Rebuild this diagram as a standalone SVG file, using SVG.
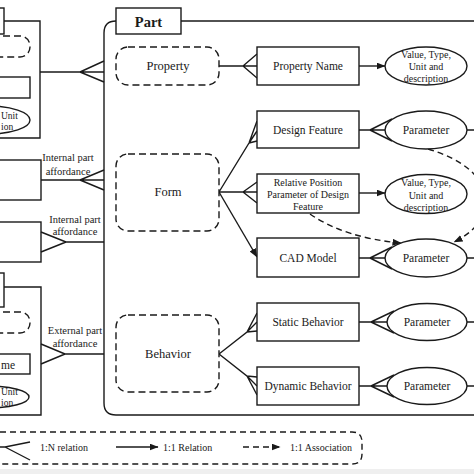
<svg xmlns="http://www.w3.org/2000/svg" width="474" height="474" viewBox="0 0 474 474">
<style>
  .ln{fill:none;stroke:#1a1a1a;stroke-width:1.4}
  .box{fill:#fff;stroke:#1a1a1a;stroke-width:1.4}
  .dbox{fill:#fff;stroke:#1a1a1a;stroke-width:1.4;stroke-dasharray:7 4}
  .dl{fill:none;stroke:#1a1a1a;stroke-width:1.4;stroke-dasharray:6 4}
  text{font-family:"Liberation Serif","Times New Roman",serif;fill:#1a1a1a;dominant-baseline:central}
  .t{font-size:11.5px;text-anchor:middle}
  .big{font-size:12.5px;text-anchor:middle}
  .s{font-size:10px;text-anchor:middle}
  .lab{font-size:10.5px;text-anchor:middle}
  .e{font-size:9.5px;text-anchor:start}
  .lg{font-size:10px;text-anchor:start}
</style>
<defs>
  <marker id="ar" markerWidth="9" markerHeight="7" refX="8.5" refY="3.5" orient="auto" markerUnits="userSpaceOnUse">
    <path d="M0,0 L9,3.5 L0,7 Z" fill="#1a1a1a"/>
  </marker>
</defs>
<rect x="0" y="0" width="474" height="474" fill="#fff"/>
<rect x="0" y="469" width="474" height="5" fill="#efefef"/>

<!-- left containers (partial) -->
<g id="left-top">
  <path class="ln" d="M4,21 H40 V138 H-5"/>
  <rect class="box" x="-60" y="8" width="64" height="26"/>
  <rect class="dbox" x="-40" y="36" width="70" height="21" rx="10"/>
  <rect class="box" x="-20" y="77" width="50" height="21"/>
  <ellipse class="box" cx="-12" cy="120" rx="42" ry="14"/>
  <text class="e" x="1" y="116">Unit</text>
  <text class="e" x="1" y="127">ion</text>
</g>
<g id="left-mid1"><rect class="box" x="-20" y="160" width="61" height="40"/></g>
<g id="left-mid2"><rect class="box" x="-20" y="222" width="61" height="40"/></g>
<g id="left-bottom">
  <path class="ln" d="M4,287 H41 V415 H-5"/>
  <rect class="box" x="-60" y="273" width="64" height="34"/>
  <rect class="dbox" x="-40" y="312" width="70" height="21" rx="10"/>
  <rect class="box" x="-20" y="354" width="50" height="20"/>
  <text class="e" x="1" y="365" style="font-size:11.5px">me</text>
  <ellipse class="box" cx="-12" cy="397" rx="41" ry="11"/>
  <text class="e" x="1" y="392">Unit</text>
  <text class="e" x="1" y="403">ion</text>
</g>

<!-- Part container -->
<g id="part">
  <path class="ln" d="M181,21 H480 M480,415 H116 Q104,415 104,403 V33 Q104,21 116,21"/>
  <rect class="box" x="116" y="8" width="65" height="26"/>
  <text x="148.5" y="21.5" style="font-size:14.5px;font-weight:bold;text-anchor:middle">Part</text>
</g>

<!-- connectors -->
<g id="connectors">
  <path class="ln" d="M40,72 H104 M80,72 L104,61 M80,72 L104,82"/>
  <path class="ln" d="M41,180 H104 M80,180 L104,170 M80,180 L104,190"/>
  <path class="ln" d="M66,242 H104 M66,242 L41,232 M66,242 L41,252"/>
  <path class="ln" d="M65,354 H104 M65,354 L41,344 M65,354 L41,364"/>
  <path class="ln" d="M219,66 H257 M243,66 L257,54 M243,66 L257,78"/>
  <path class="ln" d="M359,66 H385" marker-end="url(#ar)"/>
  <path class="ln" d="M219,192 L249,143 L257,121 M249,143 L257,131 M249,143 L257,141"/>
  <path class="ln" d="M219,192 H257 M243,192 L257,182 M243,192 L257,203"/>
  <path class="ln" d="M219,192 L257,257" marker-end="url(#ar)"/>
  <path class="ln" d="M359,193 H385" marker-end="url(#ar)"/>
  <path class="ln" d="M219,354 L247,332 L257,313 M247,332 L257,322 M247,332 L257,331"/>
  <path class="ln" d="M219,354 L247,376 L257,377 M247,376 L257,386 M247,376 L257,395"/>
  <path class="ln" d="M359,130 H386 M370,130 L392,119 M370,130 L392,141 M467,130 H480"/>
  <path class="ln" d="M359,258 H386 M370,258 L392,247 M370,258 L392,269 M467,258 H480"/>
  <path class="ln" d="M359,322 H388 M371,322 L394,311 M371,322 L394,333 M467,322 H480"/>
  <path class="ln" d="M359,386 H388 M371,386 L394,375 M371,386 L394,397 M467,386 H480"/>
  <path class="dl" d="M310,214 Q345,238 401,243" marker-end="url(#ar)"/>
  <path class="dl" d="M428,149 C500,170 500,220 454,242" marker-end="url(#ar)"/>
</g>

<!-- nodes -->
<g id="property"><rect class="dbox" x="116" y="47" width="103" height="38" rx="12"/><text class="big" x="168" y="66">Property</text></g>
<g id="property-name"><rect class="box" x="257" y="47" width="102" height="38"/><text class="t" x="308" y="66">Property Name</text></g>
<g id="value-1"><ellipse class="box" cx="426" cy="66" rx="41" ry="19"/>
  <text class="s" x="426" y="54.5">Value, Type,</text><text class="s" x="426" y="66.5">Unit and</text><text class="s" x="426" y="78">description</text></g>

<g id="form"><rect class="dbox" x="116" y="154" width="103" height="77" rx="12"/><text class="big" x="168" y="192">Form</text></g>
<g id="design-feature"><rect class="box" x="257" y="111" width="102" height="37"/><text class="t" x="308" y="130">Design Feature</text></g>
<g id="param-1"><ellipse class="box" cx="426" cy="130" rx="41" ry="19"/><text class="t" x="426" y="130">Parameter</text></g>
<g id="relative-position"><rect class="box" x="257" y="174" width="102" height="39"/>
  <text class="s" x="308" y="182">Relative Position</text><text class="s" x="308" y="194">Parameter of Design</text><text class="s" x="308" y="206">Feature</text></g>
<g id="value-2"><ellipse class="box" cx="426" cy="194" rx="41" ry="19.5"/>
  <text class="s" x="426" y="182">Value, Type,</text><text class="s" x="426" y="195">Unit and</text><text class="s" x="426" y="207">description</text></g>
<g id="cad-model"><rect class="box" x="257" y="238" width="102" height="39"/><text class="t" x="308" y="257.5">CAD Model</text></g>
<g id="param-2"><ellipse class="box" cx="426" cy="258" rx="41" ry="19"/><text class="t" x="426" y="258">Parameter</text></g>

<g id="behavior"><rect class="dbox" x="116" y="315" width="103" height="77" rx="12"/><text class="big" x="168" y="354">Behavior</text></g>
<g id="static-behavior"><rect class="box" x="257" y="303" width="102" height="38"/><text class="t" x="308" y="322">Static Behavior</text></g>
<g id="param-3"><ellipse class="box" cx="427" cy="322" rx="40" ry="18.5"/><text class="t" x="427" y="322">Parameter</text></g>
<g id="dynamic-behavior"><rect class="box" x="257" y="367" width="102" height="38"/><text class="t" x="308" y="386">Dynamic Behavior</text></g>
<g id="param-4"><ellipse class="box" cx="427" cy="386" rx="40" ry="18.5"/><text class="t" x="427" y="386">Parameter</text></g>

<g id="labels">
  <text class="lab" x="68" y="157">Internal part</text><text class="lab" x="68" y="171">affordance</text>
  <text class="lab" x="75" y="219">Internal part</text><text class="lab" x="75" y="231">affordance</text>
  <text class="lab" x="75" y="330">External part</text><text class="lab" x="75" y="343">affordance</text>
</g>

<g id="legend">
  <path class="dl" d="M-10,432 H352 Q362,432 362,442 V454 Q362,464 352,464 H-10"/>
  <path class="ln" d="M0,447 H5 L30,442 M5,447 L30,460"/>
  <text class="lg" x="40" y="447">1:N relation</text>
  <path class="ln" d="M116,447 H158" marker-end="url(#ar)"/>
  <text class="lg" x="163" y="447">1:1 Relation</text>
  <path class="dl" d="M243,447 H280" marker-end="url(#ar)"/>
  <text class="lg" x="290" y="447">1:1 Association</text>
</g>
</svg>
